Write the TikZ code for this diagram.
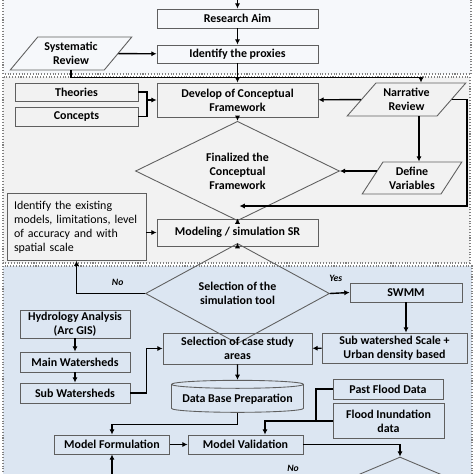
\documentclass[tikz,border=0pt]{standalone}
\usepackage{fontspec}
\setmainfont{Carlito}
\usepackage{tikz}
\usetikzlibrary{shapes,arrows.meta}
\usetikzlibrary{calc}
\usetikzlibrary{positioning}
\definecolor{toppanel}{RGB}{246,248,251}
\definecolor{midpanel}{RGB}{242,242,242}
\definecolor{botpanel}{RGB}{220,230,242}
\definecolor{edgegray}{RGB}{95,95,95}

\begin{document}
\begin{tikzpicture}[x=0.02cm, y=-0.02cm,
	box_node/.style={rectangle,draw=edgegray,line width=0.5pt,inner sep=1pt,align=center,font=\fontsize{6.8}{8}\selectfont\bfseries},
	para_node/.style={trapezium,trapezium left angle=48,trapezium right angle=132,trapezium stretches=true,draw=edgegray,line width=0.5pt,inner sep=1pt,align=center,font=\fontsize{6.8}{8}\selectfont\bfseries},
	dia_node/.style={diamond,draw=edgegray,line width=0.5pt,inner sep=0pt,align=center,font=\fontsize{6.8}{8}\selectfont\bfseries},
	db_node/.style={cylinder,shape border rotate=90,aspect=0.07,draw=edgegray,line width=0.5pt,inner sep=1pt,font=\fontsize{6.8}{8}\selectfont\bfseries},
	panel_box/.style={draw=black!50,densely dotted,line width=0.6pt},
	wire/.style={line width=0.8pt},
	conn/.style={wire,-{Latex[length=3pt,width=3pt]}},
	lbl/.style={font=\fontsize{5.5}{6}\selectfont\bfseries\itshape}]

	\useasboundingbox (0,0) rectangle (474,474);
	\clip (0,0) rectangle (474,474);

	% panels
	\draw[panel_box,fill=toppanel] (3,-3) rectangle (471,74);
	\draw[panel_box,fill=midpanel] (3,77) rectangle (470,263);
	\draw[panel_box,fill=botpanel] (3,266) rectangle (472,480);

	% top part
	\coordinate (start) at (237.5,-5);
	\node[box_node, minimum width=3.22cm, minimum height=0.38cm] (aim) at (237.5,18.5) {Research Aim};
	\node[box_node, minimum width=3.22cm, minimum height=0.36cm] (proxies) at (237.5,54) {Identify the proxies};
	\node[para_node, minimum width=2.44cm, minimum height=0.66cm] (sysrev) at (71,53.5) {Systematic\\Review};

	% conceptual framework
	\node[box_node, minimum width=2.46cm, minimum height=0.36cm] (theories) at (76.5,92) {Theories};
	\node[box_node, minimum width=2.46cm, minimum height=0.38cm] (concepts) at (76.5,116.5) {Concepts};
	\node[box_node, minimum width=3.22cm, minimum height=0.68cm] (develop) at (237.5,100) {Develop of Conceptual\\Framework};
	\node[para_node, minimum width=2.38cm, minimum height=0.66cm] (narr) at (406.5,99.5) {Narrative\\Review};
	\node[dia_node, minimum width=4.08cm, minimum height=1.36cm] (final) at (237.5,171) {Finalized the\\Conceptual\\Framework};
	\node[para_node, trapezium left angle=56, trapezium right angle=124, minimum width=2.0cm, minimum height=0.64cm] (defvar) at (412,178) {Define\\Variables};
	\node[box_node, font=\fontsize{6.8}{8}\selectfont, align=left, text width=2.5cm, inner sep=4pt, minimum height=1.24cm] (existing) at (76.5,227) {Identify the existing\\models, limitations, level\\of accuracy and with\\spatial scale};
	\node[box_node, minimum width=3.22cm, minimum height=0.54cm] (model) at (237.5,232.5) {Modeling / simulation SR};
	\coordinate (tc) at (147,100);
	\coordinate (fb) at (239.5,206);

	% simulation part
	\node[dia_node, minimum width=3.68cm, minimum height=0.98cm] (select) at (237.5,293.5) {Selection of the\\simulation tool};
	\node[box_node, minimum width=2.24cm, minimum height=0.38cm] (swmm) at (406,292.5) {SWMM};
	\node[box_node, minimum width=2.9cm, minimum height=0.6cm] (subscale) at (394.5,348) {Sub watershed Scale +\\Urban density based};
	\node[box_node, minimum width=2.98cm, minimum height=0.62cm] (casestudy) at (237.5,348.5) {Selection of case study\\areas};
	\node[box_node, minimum width=2.2cm, minimum height=0.56cm] (hydro) at (75,324) {Hydrology Analysis\\(Arc GIS)};
	\node[box_node, minimum width=2.2cm, minimum height=0.4cm] (mainws) at (75,362) {Main Watersheds};
	\node[box_node, minimum width=2.2cm, minimum height=0.4cm] (subws) at (75,393) {Sub Watersheds};
	\node[db_node, minimum width=2.64cm, minimum height=0.64cm] (database) at (237.5,399) {Data Base Preparation};
	\node[box_node, minimum width=2.3cm, minimum height=0.38cm] (formul) at (112,444.5) {Model Formulation};
	\node[box_node, minimum width=2.3cm, minimum height=0.38cm] (valid) at (245.5,444.5) {Model Validation};
	\node[box_node, minimum width=2.2cm, minimum height=0.4cm] (past) at (388,389) {Past Flood Data};
	\node[box_node, minimum width=2.22cm, minimum height=0.7cm] (inund) at (388.5,421) {Flood Inundation\\data};
	\node[dia_node, minimum width=3.12cm, minimum height=1.32cm] (check) at (400,490) {};
	\node[lbl] (nolbl) at (293,468) {No};
	\coordinate (pj) at (316,421);
	\coordinate (fin) at (112,480);

	\path[conn]
	(start) edge (aim)
	(aim) edge (proxies)
	(sysrev) edge (proxies)
	(proxies) edge (develop)
	(tc) edge (develop)
	(narr) edge (develop)
	(develop) edge (final)
	(final) edge (model)
	(model) edge (select)
	(swmm.south) edge (swmm.south |- subscale.north)
	(subscale) edge (casestudy)
	(hydro) edge (mainws)
	(mainws) edge (subws)
	(casestudy) edge (database)
	(formul) edge (valid)
	(fin) edge (formul);

	\draw[conn] (sysrev.south) -- ++(0,7) -| ([xshift=0.29cm]narr.north);
	\draw[wire] (theories.east) -| (tc) |- (concepts.east);
	\draw[conn] (narr.east) -- ++(15,0) |- (fb);
	\draw[conn] ([xshift=0.25cm]narr.south) -- ([xshift=0.25cm]narr.south |- defvar.north);
	\draw[conn] ($(defvar.west |- final.east)+(5,0)$) -- (final.east);
	\draw[conn] (existing.east |- model.west) -- (model.west);
	\draw[conn] (select.west) -| node[lbl, pos=0.2, above=1pt] {No} (existing.south);
	\draw[conn] (select.east) -- node[lbl, pos=0.3, above=3pt] {Yes} (swmm.west);
	\draw[conn] (subws.east) -- ++(16,0) |- (casestudy.west);
	\draw[conn] (database.south) -- ++(0,12) -| (formul.north);
	\draw[wire] (past.west) -| (pj);
	\draw[conn] (inund.west) -- (pj) -| ([xshift=0.39cm]valid.north);
	\draw[conn] (valid.east) -| (check.north);
\end{tikzpicture}
\end{document}
